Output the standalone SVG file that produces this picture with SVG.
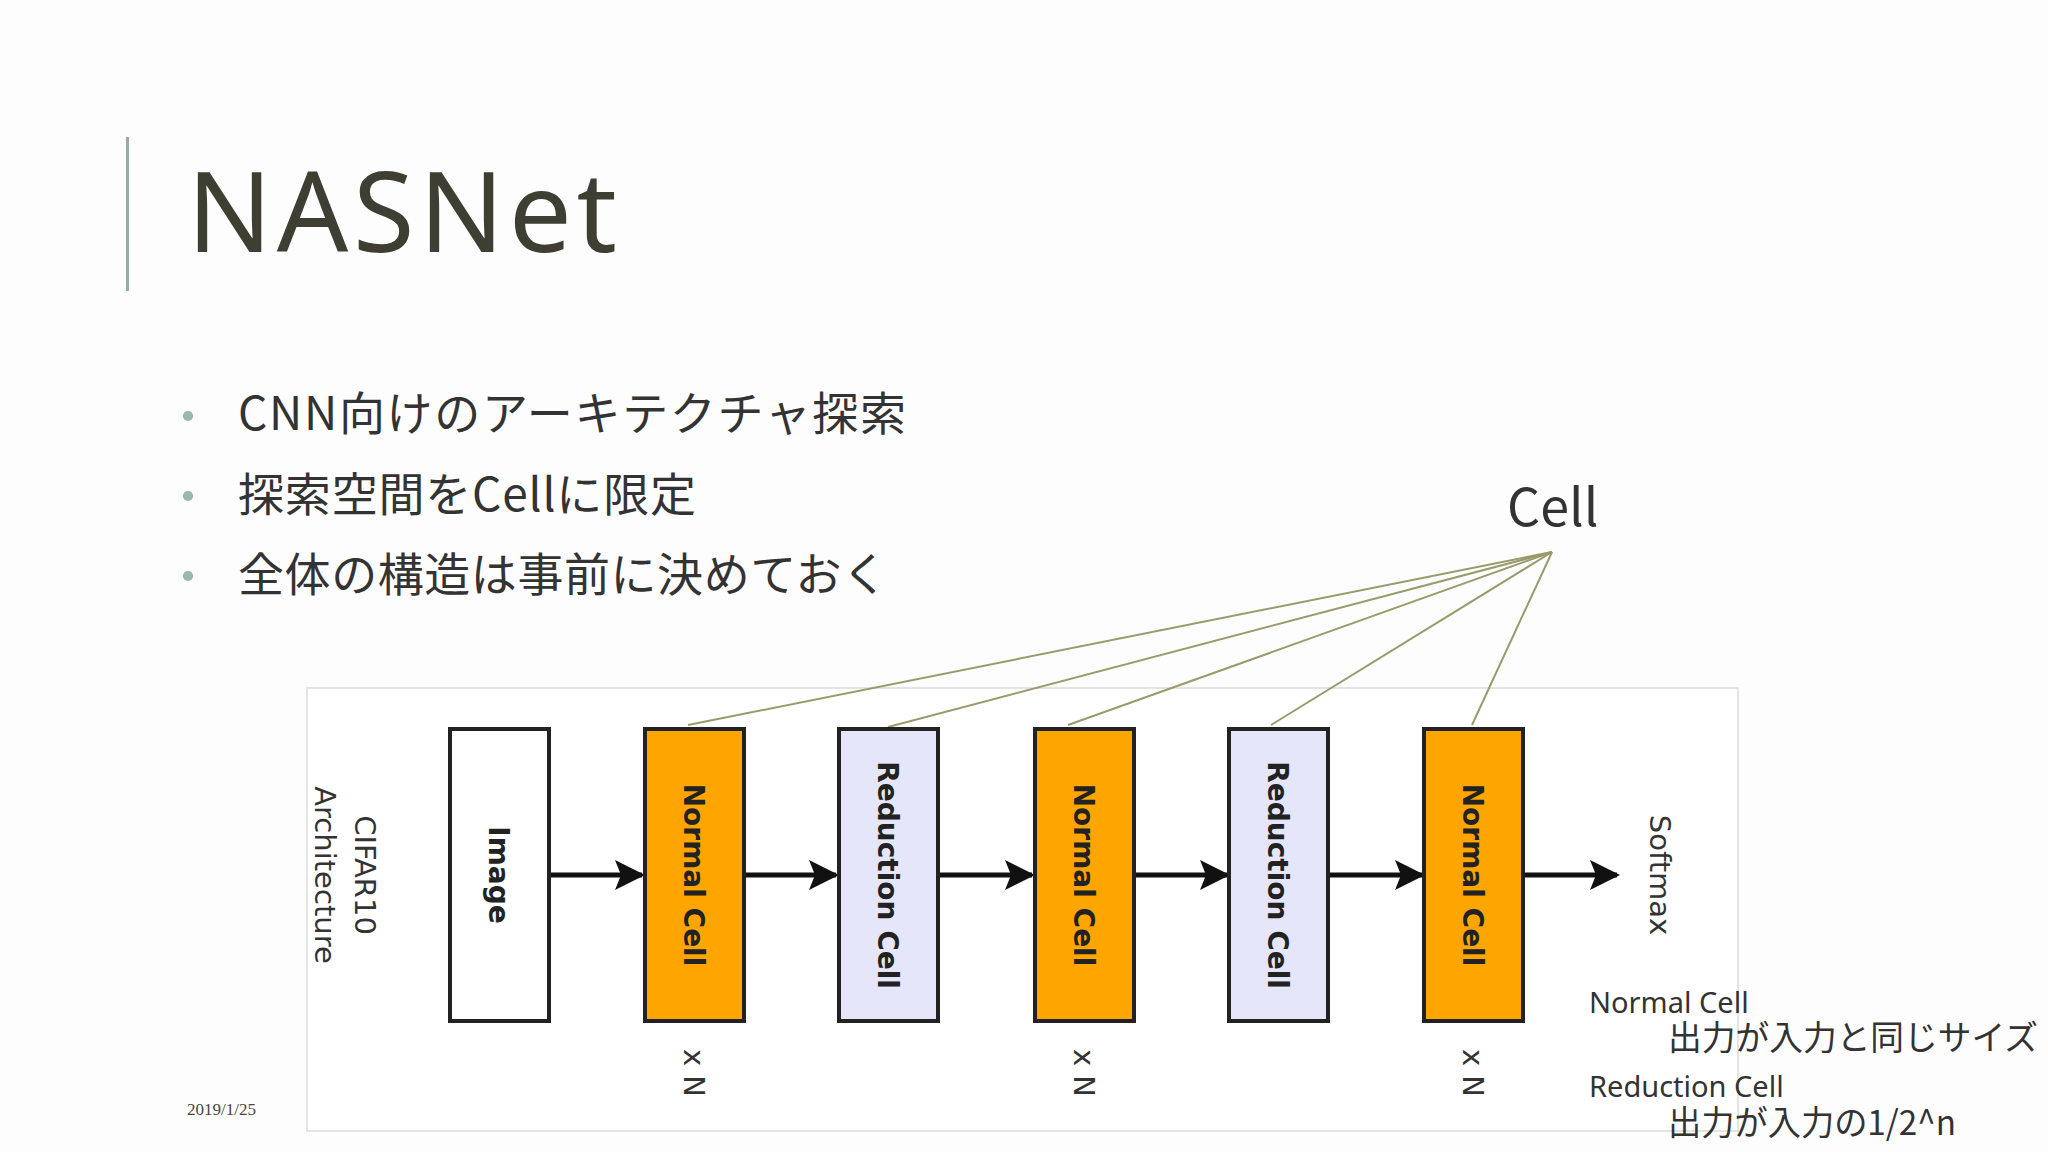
<svg xmlns="http://www.w3.org/2000/svg" width="2048" height="1152" viewBox="0 0 2048 1152">
<defs>
<style>
.t{font-family:"Noto Sans CJK JP","Noto Sans",sans-serif;fill:#333}
.box{stroke:#222;stroke-width:4}
.bl{font-family:"DejaVu Sans",sans-serif;font-weight:bold;font-size:28px;fill:#222;text-anchor:middle}
.lb{font-family:"DejaVu Sans",sans-serif;font-size:29px;fill:#333;text-anchor:middle}
.ar{stroke:#111;stroke-width:5;marker-end:url(#ah)}
.cl{stroke:#9a9a6c;stroke-width:2}
</style>
<marker id="ah" viewBox="0 0 10 10" refX="9" refY="5" markerWidth="6" markerHeight="6" orient="auto" markerUnits="strokeWidth"><path d="M0,0L10,5L0,10L2,5z" fill="#111"/></marker>
</defs>
<rect width="2048" height="1152" fill="#fdfdfd"/>
<rect x="126" y="137" width="3" height="154" fill="#8fb0a0"/>
<text x="187" y="252" font-family="Noto Sans, sans-serif" font-size="112" fill="#3e3e32" textLength="430">NASNet</text>
<g fill="#9ab8aa"><circle cx="188" cy="416" r="5"/><circle cx="188" cy="496" r="5"/><circle cx="188" cy="576" r="5"/></g>
<text class="t" x="238" y="430" font-size="46" textLength="668">CNN向けのアーキテクチャ探索</text>
<text class="t" x="238" y="511" font-size="46" textLength="458">探索空間をCellに限定</text>
<text class="t" x="238" y="591" font-size="46" textLength="650">全体の構造は事前に決めておく</text>
<text class="t" x="1507" y="526" font-size="52" fill="#222">Cell</text>
<rect x="307" y="688" width="1431" height="443" fill="#fff" stroke="#e4e4e4" stroke-width="2"/>
<g id="connectors">
<line class="cl" x1="1552" y1="552" x2="688" y2="725"/>
<line class="cl" x1="1552" y1="552" x2="888" y2="727"/>
<line class="cl" x1="1552" y1="552" x2="1068" y2="725"/>
<line class="cl" x1="1552" y1="552" x2="1271" y2="725"/>
<line class="cl" x1="1552" y1="552" x2="1472" y2="725"/>
<line class="ar" x1="549" y1="875" x2="642" y2="875"/>
<line class="ar" x1="744" y1="875" x2="836" y2="875"/>
<line class="ar" x1="938" y1="875" x2="1032" y2="875"/>
<line class="ar" x1="1134" y1="875" x2="1227" y2="875"/>
<line class="ar" x1="1328" y1="875" x2="1422" y2="875"/>
<line class="ar" x1="1523" y1="875" x2="1617" y2="875"/>
</g>
<g id="arch"><text class="lb" transform="translate(345,875) rotate(90)" y="-10">CIFAR10</text><text class="lb" transform="translate(345,875) rotate(90)" y="30">Architecture</text></g>
<g id="image"><rect class="box" x="450" y="729" width="99" height="292" fill="#fff"/><text class="bl" transform="translate(499,875) rotate(90)" y="10">Image</text></g>
<g id="n1"><rect class="box" x="645" y="729" width="99" height="292" fill="#ffa500"/><text class="bl" transform="translate(694,875) rotate(90)" y="10">Normal Cell</text></g>
<g id="r1"><rect class="box" x="839" y="729" width="99" height="292" fill="#e6e6fa"/><text class="bl" transform="translate(888,875) rotate(90)" y="10">Reduction Cell</text></g>
<g id="n2"><rect class="box" x="1035" y="729" width="99" height="292" fill="#ffa500"/><text class="bl" transform="translate(1084,875) rotate(90)" y="10">Normal Cell</text></g>
<g id="r2"><rect class="box" x="1229" y="729" width="99" height="292" fill="#e6e6fa"/><text class="bl" transform="translate(1278,875) rotate(90)" y="10">Reduction Cell</text></g>
<g id="n3"><rect class="box" x="1424" y="729" width="99" height="292" fill="#ffa500"/><text class="bl" transform="translate(1473,875) rotate(90)" y="10">Normal Cell</text></g>
<g id="softmax"><text class="lb" transform="translate(1660,875) rotate(90)" y="10">Softmax</text></g>
<g><text class="lb" transform="translate(694,1073) rotate(90)" y="10">x N</text><text class="lb" transform="translate(1084,1073) rotate(90)" y="10">x N</text><text class="lb" transform="translate(1473,1073) rotate(90)" y="10">x N</text></g>
<text x="187" y="1115" font-family="Liberation Serif, serif" font-size="17" fill="#444">2019/1/25</text>
<g class="t" fill="#222">
<text x="1589" y="1013" font-size="29" font-family="Noto Sans, sans-serif">Normal Cell</text>
<text x="1668" y="1050" font-size="34" textLength="370" lengthAdjust="spacingAndGlyphs">出力が入力と同じサイズ</text>
<text x="1589" y="1097" font-size="29" font-family="Noto Sans, sans-serif">Reduction Cell</text>
<text x="1668" y="1135" font-size="34" textLength="288" lengthAdjust="spacingAndGlyphs">出力が入力の1/2^n</text>
</g>
</svg>
